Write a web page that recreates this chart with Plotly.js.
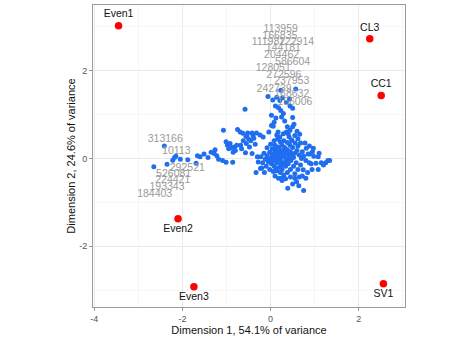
<!DOCTYPE html>
<html>
<head>
<meta charset="utf-8">
<script src="https://cdn.plot.ly/plotly-3.0.1.min.js"></script>
<style>html,body{margin:0;padding:0;background:#fff;}#chart{width:474px;height:338px;}</style>
</head>
<body>
<div id="chart"></div>
<script>
// Sample (red) points
const sampleNames = ["Even1", "CL3", "CC1", "Even2", "Even3", "SV1"];
const sampleX = [-3.45, 2.25, 2.51, -2.10, -1.74, 2.56];
const sampleY = [3.02, 2.72, 1.43, -1.37, -2.92, -2.85];
const samplePos = ["top center", "top center", "top center", "bottom center", "bottom center", "bottom center"];

// Gene (blue) points
const geneX = [
 -2.65,-2.41,-2.35,-2.22,-2.18,-2.15,-2.05,-1.88,-1.69,-1.66,-1.60,-1.51,-1.42,-1.35,-1.28,-1.26,-1.22,-1.18,-1.09,-1.01,
 -1.07,-1.01,-0.98,-0.95,-0.92,-0.88,-0.86,-0.85,-0.82,-0.80,-0.77,-0.75,-0.69,-0.63,-0.68,-0.66,-0.54,-0.62,-0.58,-0.57,
 -0.56,-0.55,-0.52,-0.50,-0.48,-0.45,-0.42,-0.40,-0.38,-0.35,-0.32,-0.24,-0.17,-0.30,-0.28,-0.42,
 0.23,0.57,-0.06,0.05,0.14,0.21,0.27,0.36,0.43,0.11,0.18,0.23,0.29,0.44,0.50,0.02,0.25,0.50,0.50,0.53,
 0.44,0.02,0.06,0.17,0.29,0.36,0.40,0.42,0.14,0.21,0.08,0.32,0.38,0.60,0.66,-0.04,0.12,0.48,
 0.00,0.05,0.10,0.15,0.20,0.08,0.12,0.18,0.25,0.30,0.22,0.28,0.35,0.40,0.45,0.38,0.32,0.26,0.18,0.10,
 0.04,-0.02,-0.08,-0.12,-0.05,0.02,0.08,0.14,0.20,0.26,0.34,0.40,0.46,0.52,0.55,0.50,0.44,0.38,0.30,0.22,
 0.48,0.56,0.62,0.60,0.65,0.58,0.52,0.45,0.38,0.30,0.22,0.14,0.06,-0.02,-0.10,-0.18,-0.22,-0.15,-0.20,-0.14,
 -0.33,-0.23,0.10,0.18,0.26,0.34,0.45,0.55,0.62,0.68,0.70,0.72,0.68,0.62,0.55,0.16,0.08,0.00,-0.08,0.12,
 0.18,0.24,0.06,0.16,0.28,0.34,0.42,0.36,0.30,0.20,0.04,-0.04,0.24,0.12,0.48,0.10,
 0.75,0.80,0.85,0.89,0.92,0.98,1.08,1.10,0.97,0.88,0.81,0.78,0.94,1.03,1.08,1.15,1.25,1.30,1.34,1.20,
 0.74,0.84,0.72,0.65,0.80,0.59,0.50,0.39,0.75,0.25,0.88,0.95,0.64,0.55
];
const geneY = [
 -0.19,0.28,-0.13,-0.04,0.02,0.05,-0.02,-0.03,-0.11,0.06,0.04,0.10,0.02,0.14,0.11,0.20,0.06,-0.02,-0.05,-0.09,
 0.64,0.38,0.30,0.22,0.34,0.25,-0.09,0.14,0.26,0.18,0.30,0.66,0.60,0.57,0.30,0.22,0.51,0.40,1.12,0.13,
 0.50,0.34,0.58,0.44,0.26,0.40,0.11,0.52,0.46,0.32,0.58,0.53,0.49,0.04,-0.08,0.58,
 1.55,1.58,1.41,1.33,1.39,1.32,1.38,1.28,1.35,1.19,1.15,1.09,1.02,1.19,1.14,0.98,0.94,0.93,0.72,0.78,
 0.64,0.75,0.73,0.60,0.56,0.60,0.56,0.49,0.53,0.49,0.82,0.85,0.72,0.62,0.55,0.60,0.92,0.42,
 0.00,0.05,-0.02,0.03,0.08,0.12,0.18,0.15,0.10,0.05,-0.05,-0.10,-0.02,0.08,0.15,0.20,0.25,0.30,0.26,0.30,
 0.22,0.14,0.06,-0.02,-0.08,-0.12,-0.18,-0.10,-0.20,-0.25,-0.18,-0.12,-0.05,0.02,0.12,0.25,0.30,0.36,0.40,0.38,
 0.40,0.35,0.28,0.18,0.08,-0.10,-0.18,-0.25,-0.32,-0.38,-0.32,-0.28,-0.30,-0.25,-0.18,-0.10,0.04,0.12,-0.22,-0.32,
 -0.32,-0.23,-0.40,-0.45,-0.50,-0.46,-0.42,-0.35,-0.25,-0.15,0.00,0.15,0.35,0.45,0.52,0.44,0.40,0.32,0.24,0.06,
 -0.02,0.02,-0.06,0.10,0.18,0.12,0.00,-0.08,-0.15,0.20,0.08,-0.02,-0.14,-0.22,0.08,0.22,
 0.05,-0.05,0.10,0.10,-0.12,0.05,0.04,0.12,0.23,0.28,0.23,0.35,-0.25,-0.11,-0.25,-0.10,-0.10,-0.05,-0.05,-0.15,
 -0.26,-0.32,-0.40,-0.42,-0.45,-0.53,-0.58,-0.68,-0.73,-0.45,-0.10,0.15,-0.62,-0.45
];

// Gene labels (grey)
const labelText = ["113959","166835","111982","122914","144181","204462","586604","128051","272596","237953","242739","168632","156006",
                   "313166","10113","292521","526081","224421","193343","184403"];
const labelX = [0.23,0.21,-0.05,0.59,0.29,0.25,0.50,0.06,0.30,0.48,0.08,0.48,0.55,
                -2.39,-2.14,-1.89,-2.20,-2.22,-2.35,-2.63];
const labelY = [2.94,2.78,2.63,2.63,2.50,2.34,2.19,2.04,1.89,1.75,1.58,1.45,1.28,
                0.43,0.17,-0.23,-0.37,-0.51,-0.66,-0.81];

const traces = [
  {x: geneX, y: geneY, type: "scatter", mode: "markers",
   marker: {color: "#1f6ef0", size: 5}, hoverinfo: "none"},
  {x: labelX, y: labelY, text: labelText, type: "scatter", mode: "text",
   textposition: "middle center", textfont: {family: "Liberation Sans, Arial, sans-serif", size: 10.5, color: "#9a9a9a"},
   hoverinfo: "none"},
  {x: sampleX, y: sampleY, text: sampleNames, type: "scatter", mode: "markers+text",
   textposition: samplePos, marker: {color: "#ff0000", size: 7.5},
   textfont: {family: "Liberation Sans, Arial, sans-serif", size: 10.5, color: "#111"}, hoverinfo: "none"}
];

const axisCommon = {
  showgrid: true, gridcolor: "#ebebeb", gridwidth: 1,
  zeroline: false, showline: true, mirror: true, linecolor: "#9a9a9a", linewidth: 1,
  ticks: "outside", ticklen: 3, tickcolor: "#9a9a9a", tickwidth: 1,
  tickfont: {family: "Liberation Sans, Arial, sans-serif", size: 9, color: "#555"},
  minor: {dtick: 1, showgrid: true, gridcolor: "#f4f4f4", gridwidth: 0.8, ticks: ""}
};

const layout = {
  width: 474, height: 338,
  margin: {l: 92.5, r: 68.5, t: 5, b: 30.5},
  paper_bgcolor: "#fff", plot_bgcolor: "#fff",
  showlegend: false,
  xaxis: Object.assign({}, axisCommon, {
    range: [-4.03, 3.05], tickvals: [-4, -2, 0, 2], ticktext: ["-4", "-2", "0", "2"],
    title: {text: "Dimension 1, 54.1% of variance", standoff: 2,
            font: {family: "Liberation Sans, Arial, sans-serif", size: 11, color: "#111"}}
  }),
  yaxis: Object.assign({}, axisCommon, {
    range: [-3.38, 3.49], tickvals: [-2, 0, 2], ticktext: ["-2", "0", "2"],
    title: {text: "Dimension 2, 24.6% of variance", standoff: 1,
            font: {family: "Liberation Sans, Arial, sans-serif", size: 11, color: "#111"}}
  })
};

Plotly.newPlot("chart", traces, layout, {displayModeBar: false, staticPlot: true});
</script>
</body>
</html>
